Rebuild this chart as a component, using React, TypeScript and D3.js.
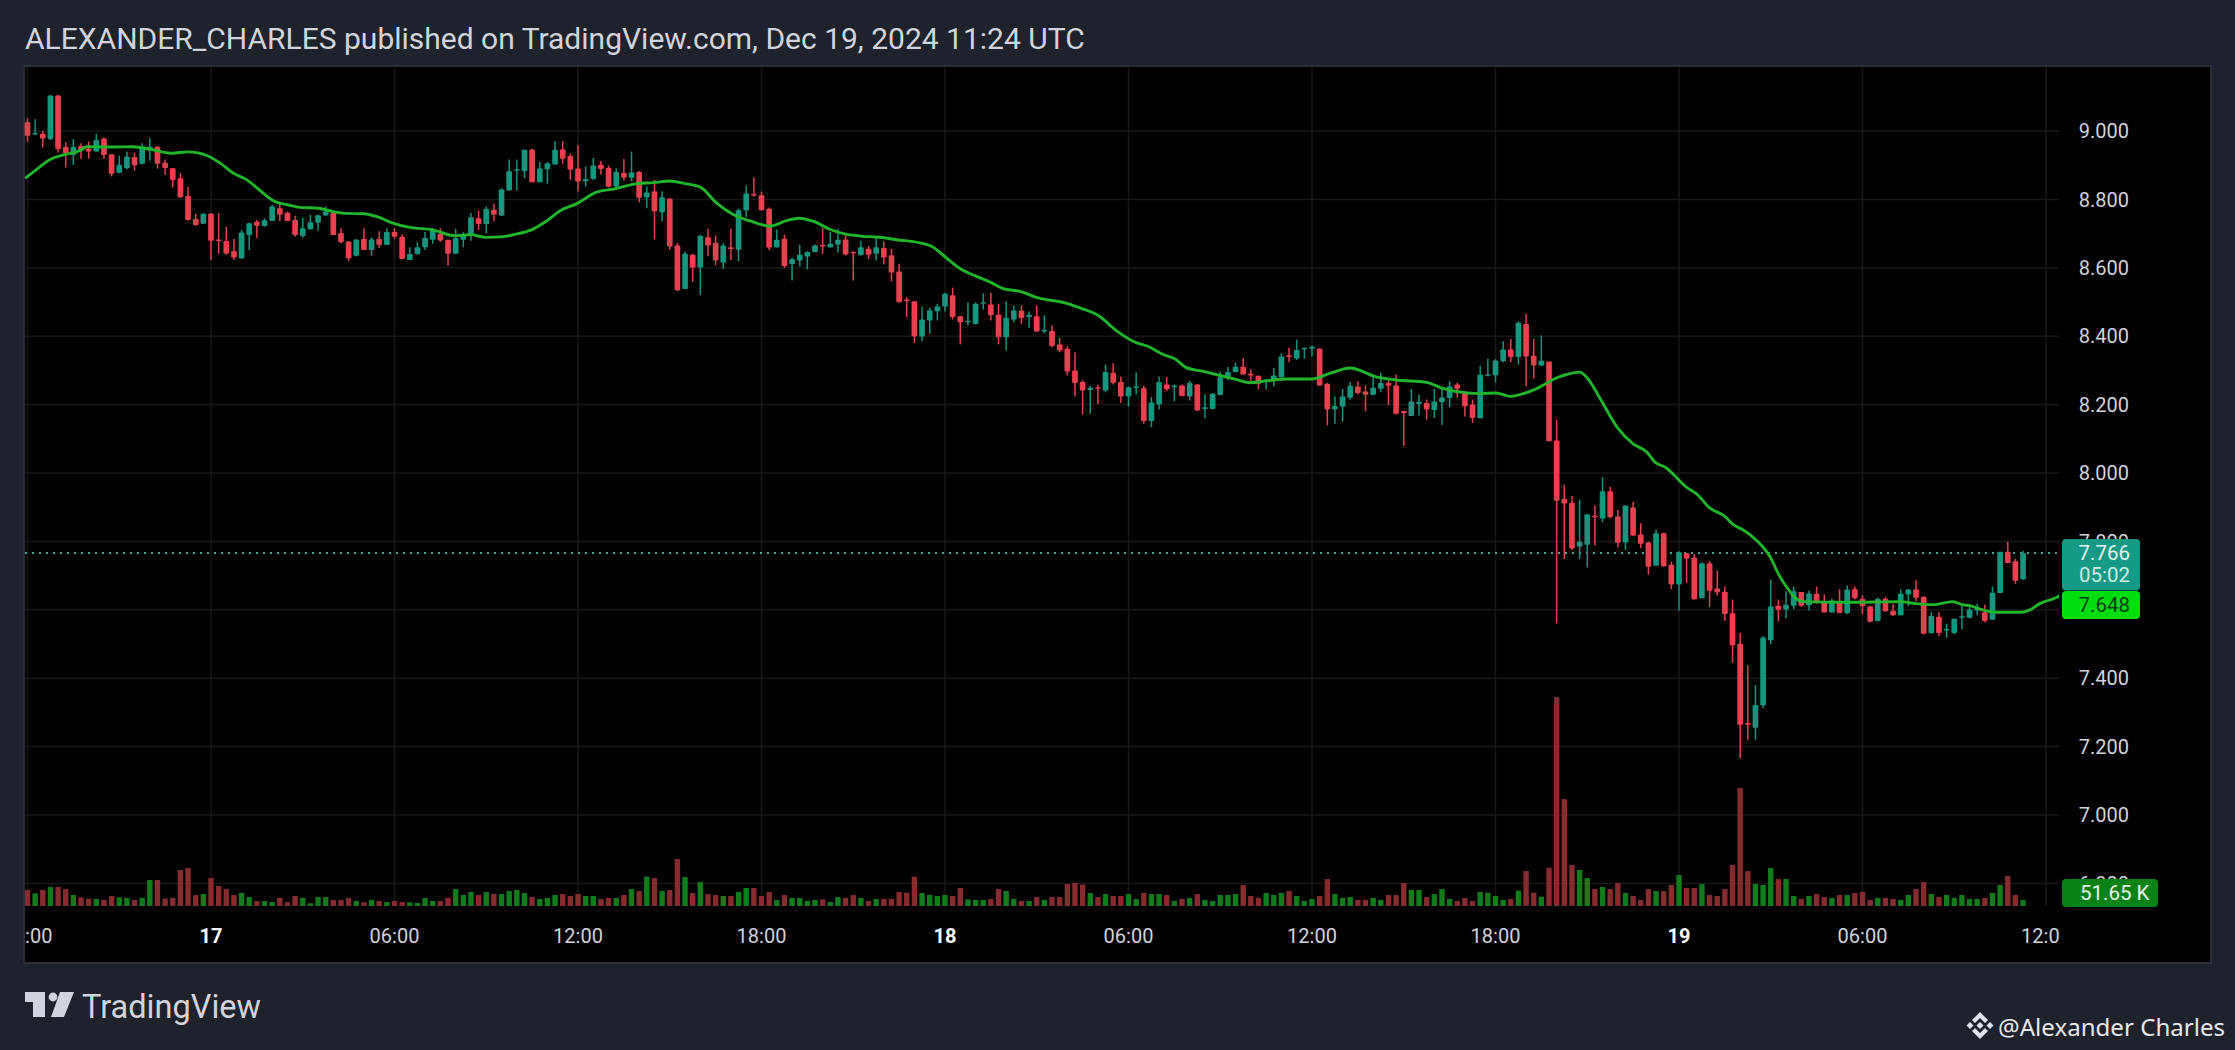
import React from "react";
import * as d3 from "d3";

const WIDTH = 2235;
const HEIGHT = 1050;

const PANE_LEFT = 25;
const PANE_RIGHT = 2059;
const FRAME_RIGHT = 2210;
const FRAME_TOP = 67;
const FRAME_BOTTOM = 962;
const VOLUME_BASE = 906;

const BG = "#1e222d";
const FRAME = "#2a2e39";
const GRID = "#181818";
const UP = "#16957f";
const DOWN = "#e8404f";
const VOL_UP = "#127c1c";
const VOL_DOWN = "#862c2f";
const MA = "#20b62c";
const TEXT = "#d1d4dc";

// 15 minute bars, bar 0 = Dec 16 18:00 UTC
const opens = [
  9.026, 8.990, 8.992, 8.976, 9.104, 8.953, 8.930, 8.956, 8.948, 8.940, 8.978, 8.932, 8.878, 8.891, 8.924, 8.904, 8.943, 8.954, 8.907, 8.891, 8.862, 8.810, 8.743, 8.729,
  8.758, 8.683, 8.678, 8.649, 8.628, 8.696, 8.735, 8.722, 8.737, 8.774, 8.761, 8.740, 8.693, 8.713, 8.732, 8.753, 8.761, 8.702, 8.677, 8.635, 8.684, 8.652, 8.684, 8.667,
  8.705, 8.691, 8.623, 8.640, 8.660, 8.682, 8.699, 8.682, 8.641, 8.682, 8.694, 8.745, 8.728, 8.770, 8.753, 8.826, 8.884, 8.882, 8.946, 8.850, 8.888, 8.902, 8.946, 8.927,
  8.890, 8.853, 8.860, 8.901, 8.892, 8.838, 8.877, 8.863, 8.880, 8.806, 8.824, 8.762, 8.802, 8.665, 8.538, 8.638, 8.601, 8.689, 8.673, 8.615, 8.660, 8.653, 8.768, 8.816,
  8.812, 8.773, 8.660, 8.685, 8.611, 8.621, 8.633, 8.646, 8.667, 8.660, 8.668, 8.683, 8.647, 8.637, 8.656, 8.641, 8.658, 8.637, 8.589, 8.507, 8.502, 8.399, 8.446, 8.473,
  8.487, 8.520, 8.458, 8.441, 8.436, 8.495, 8.493, 8.463, 8.397, 8.449, 8.475, 8.456, 8.458, 8.414, 8.415, 8.376, 8.363, 8.300, 8.266, 8.243, 8.251, 8.241, 8.293, 8.266,
  8.224, 8.249, 8.248, 8.152, 8.200, 8.259, 8.253, 8.256, 8.224, 8.259, 8.187, 8.187, 8.228, 8.278, 8.295, 8.311, 8.290, 8.284, 8.271, 8.271, 8.280, 8.344, 8.335, 8.363,
  8.363, 8.363, 8.261, 8.186, 8.194, 8.220, 8.253, 8.238, 8.229, 8.246, 8.263, 8.256, 8.181, 8.167, 8.202, 8.205, 8.184, 8.207, 8.219, 8.259, 8.236, 8.200, 8.160, 8.284,
  8.286, 8.327, 8.361, 8.339, 8.436, 8.343, 8.314, 8.326, 8.095, 7.925, 7.913, 7.785, 7.790, 7.875, 7.867, 7.947, 7.873, 7.797, 7.899, 7.820, 7.797, 7.729, 7.824, 7.732,
  7.674, 7.765, 7.753, 7.634, 7.736, 7.662, 7.653, 7.590, 7.501, 7.269, 7.255, 7.321, 7.511, 7.612, 7.601, 7.612, 7.652, 7.613, 7.647, 7.622, 7.592, 7.624, 7.590, 7.660,
  7.632, 7.610, 7.567, 7.632, 7.597, 7.584, 7.645, 7.659, 7.638, 7.532, 7.580, 7.540, 7.532, 7.577, 7.577, 7.600, 7.593, 7.571, 7.649, 7.770, 7.742, 7.689,
];
const highs = [
  9.037, 9.034, 9.001, 9.106, 9.106, 8.967, 8.976, 8.964, 8.969, 8.992, 8.982, 8.932, 8.928, 8.940, 8.937, 8.964, 8.979, 8.956, 8.917, 8.891, 8.877, 8.836, 8.758, 8.760,
  8.760, 8.760, 8.720, 8.684, 8.711, 8.732, 8.740, 8.745, 8.784, 8.787, 8.764, 8.752, 8.746, 8.755, 8.756, 8.779, 8.764, 8.716, 8.677, 8.683, 8.716, 8.689, 8.707, 8.716,
  8.716, 8.698, 8.660, 8.675, 8.705, 8.716, 8.716, 8.682, 8.714, 8.704, 8.760, 8.767, 8.779, 8.787, 8.832, 8.917, 8.917, 8.945, 8.948, 8.909, 8.909, 8.970, 8.970, 8.934,
  8.958, 8.896, 8.921, 8.912, 8.899, 8.890, 8.918, 8.940, 8.883, 8.838, 8.857, 8.823, 8.805, 8.673, 8.648, 8.641, 8.697, 8.714, 8.695, 8.672, 8.714, 8.773, 8.841, 8.864,
  8.823, 8.776, 8.711, 8.697, 8.629, 8.667, 8.648, 8.668, 8.716, 8.704, 8.714, 8.695, 8.647, 8.679, 8.664, 8.690, 8.677, 8.656, 8.612, 8.514, 8.502, 8.487, 8.483, 8.495,
  8.527, 8.542, 8.460, 8.499, 8.499, 8.525, 8.527, 8.495, 8.502, 8.490, 8.490, 8.472, 8.490, 8.461, 8.431, 8.395, 8.370, 8.353, 8.271, 8.255, 8.258, 8.317, 8.321, 8.282,
  8.253, 8.294, 8.255, 8.222, 8.282, 8.280, 8.259, 8.259, 8.269, 8.259, 8.230, 8.234, 8.297, 8.310, 8.323, 8.336, 8.303, 8.285, 8.275, 8.307, 8.350, 8.366, 8.390, 8.366,
  8.373, 8.365, 8.263, 8.224, 8.246, 8.266, 8.268, 8.256, 8.280, 8.294, 8.271, 8.288, 8.181, 8.246, 8.229, 8.215, 8.246, 8.246, 8.268, 8.264, 8.238, 8.215, 8.313, 8.334,
  8.333, 8.385, 8.392, 8.443, 8.466, 8.392, 8.402, 8.326, 8.155, 7.966, 7.933, 7.922, 7.880, 7.905, 7.988, 7.960, 7.892, 7.906, 7.916, 7.853, 7.799, 7.834, 7.826, 7.741,
  7.771, 7.766, 7.763, 7.738, 7.743, 7.714, 7.668, 7.630, 7.533, 7.438, 7.380, 7.523, 7.688, 7.630, 7.654, 7.668, 7.652, 7.656, 7.668, 7.645, 7.632, 7.660, 7.671, 7.668,
  7.642, 7.612, 7.635, 7.637, 7.616, 7.659, 7.661, 7.688, 7.639, 7.593, 7.593, 7.559, 7.574, 7.613, 7.608, 7.618, 7.615, 7.668, 7.770, 7.799, 7.749, 7.773,
];
const lows = [
  8.969, 8.989, 8.952, 8.974, 8.937, 8.893, 8.901, 8.919, 8.919, 8.940, 8.919, 8.867, 8.878, 8.888, 8.884, 8.902, 8.914, 8.890, 8.872, 8.835, 8.804, 8.738, 8.723, 8.729,
  8.623, 8.641, 8.638, 8.623, 8.626, 8.652, 8.687, 8.720, 8.737, 8.737, 8.737, 8.691, 8.688, 8.711, 8.708, 8.753, 8.696, 8.672, 8.619, 8.633, 8.652, 8.635, 8.658, 8.667,
  8.684, 8.626, 8.623, 8.638, 8.652, 8.670, 8.676, 8.605, 8.641, 8.660, 8.679, 8.711, 8.701, 8.736, 8.751, 8.826, 8.826, 8.862, 8.850, 8.850, 8.846, 8.902, 8.904, 8.857,
  8.823, 8.838, 8.857, 8.873, 8.835, 8.836, 8.855, 8.853, 8.792, 8.774, 8.683, 8.736, 8.653, 8.532, 8.538, 8.559, 8.520, 8.634, 8.607, 8.597, 8.623, 8.619, 8.748, 8.808,
  8.768, 8.651, 8.659, 8.599, 8.563, 8.604, 8.595, 8.645, 8.641, 8.659, 8.645, 8.636, 8.563, 8.636, 8.625, 8.621, 8.610, 8.560, 8.498, 8.456, 8.380, 8.385, 8.407, 8.446,
  8.472, 8.449, 8.376, 8.431, 8.434, 8.478, 8.446, 8.376, 8.358, 8.441, 8.436, 8.425, 8.412, 8.409, 8.368, 8.353, 8.285, 8.224, 8.171, 8.173, 8.202, 8.236, 8.259, 8.205,
  8.194, 8.230, 8.144, 8.134, 8.186, 8.239, 8.210, 8.224, 8.212, 8.181, 8.160, 8.186, 8.227, 8.272, 8.294, 8.287, 8.269, 8.244, 8.244, 8.254, 8.280, 8.324, 8.331, 8.334,
  8.341, 8.256, 8.139, 8.144, 8.150, 8.214, 8.230, 8.180, 8.227, 8.236, 8.199, 8.171, 8.080, 8.167, 8.168, 8.156, 8.161, 8.140, 8.192, 8.220, 8.165, 8.146, 8.160, 8.282,
  8.265, 8.324, 8.324, 8.317, 8.253, 8.276, 8.312, 8.093, 7.560, 7.748, 7.775, 7.748, 7.724, 7.788, 7.856, 7.867, 7.783, 7.775, 7.816, 7.781, 7.703, 7.729, 7.726, 7.660,
  7.598, 7.679, 7.630, 7.634, 7.608, 7.642, 7.567, 7.445, 7.167, 7.220, 7.220, 7.312, 7.499, 7.566, 7.576, 7.602, 7.608, 7.598, 7.618, 7.592, 7.592, 7.590, 7.588, 7.630,
  7.588, 7.563, 7.566, 7.594, 7.582, 7.584, 7.611, 7.625, 7.528, 7.530, 7.523, 7.518, 7.528, 7.543, 7.575, 7.584, 7.563, 7.571, 7.649, 7.736, 7.676, 7.687,
];
const closes = [
  8.986, 8.994, 8.978, 9.104, 8.947, 8.935, 8.953, 8.943, 8.940, 8.974, 8.930, 8.875, 8.901, 8.925, 8.900, 8.954, 8.954, 8.904, 8.892, 8.857, 8.806, 8.740, 8.725, 8.758,
  8.679, 8.680, 8.642, 8.630, 8.703, 8.730, 8.723, 8.739, 8.779, 8.755, 8.737, 8.696, 8.716, 8.733, 8.754, 8.764, 8.696, 8.675, 8.628, 8.683, 8.652, 8.683, 8.667, 8.705,
  8.691, 8.626, 8.640, 8.660, 8.687, 8.711, 8.680, 8.641, 8.687, 8.694, 8.748, 8.728, 8.772, 8.755, 8.829, 8.882, 8.888, 8.945, 8.850, 8.890, 8.906, 8.945, 8.919, 8.887,
  8.852, 8.860, 8.899, 8.889, 8.837, 8.880, 8.863, 8.879, 8.805, 8.820, 8.765, 8.806, 8.662, 8.534, 8.641, 8.601, 8.693, 8.665, 8.621, 8.665, 8.655, 8.768, 8.817, 8.812,
  8.768, 8.659, 8.682, 8.605, 8.625, 8.638, 8.646, 8.665, 8.664, 8.670, 8.682, 8.639, 8.643, 8.660, 8.638, 8.660, 8.630, 8.586, 8.500, 8.504, 8.399, 8.449, 8.475, 8.487,
  8.524, 8.456, 8.441, 8.445, 8.495, 8.499, 8.461, 8.397, 8.454, 8.475, 8.453, 8.463, 8.414, 8.419, 8.371, 8.358, 8.297, 8.263, 8.241, 8.249, 8.247, 8.295, 8.264, 8.224,
  8.251, 8.253, 8.152, 8.206, 8.266, 8.245, 8.256, 8.225, 8.263, 8.183, 8.192, 8.232, 8.280, 8.295, 8.311, 8.288, 8.285, 8.261, 8.273, 8.285, 8.341, 8.339, 8.360, 8.366,
  8.369, 8.256, 8.186, 8.196, 8.224, 8.255, 8.234, 8.229, 8.249, 8.263, 8.255, 8.173, 8.175, 8.209, 8.208, 8.186, 8.209, 8.221, 8.253, 8.246, 8.195, 8.161, 8.287, 8.289,
  8.329, 8.361, 8.339, 8.439, 8.341, 8.314, 8.328, 8.093, 7.919, 7.911, 7.779, 7.799, 7.879, 7.871, 7.947, 7.871, 7.796, 7.904, 7.817, 7.793, 7.726, 7.824, 7.727, 7.674,
  7.768, 7.750, 7.631, 7.736, 7.656, 7.651, 7.588, 7.496, 7.264, 7.264, 7.322, 7.519, 7.610, 7.600, 7.615, 7.654, 7.612, 7.648, 7.624, 7.592, 7.627, 7.591, 7.659, 7.634,
  7.611, 7.565, 7.632, 7.596, 7.584, 7.647, 7.659, 7.635, 7.530, 7.582, 7.532, 7.544, 7.574, 7.581, 7.601, 7.603, 7.567, 7.650, 7.770, 7.737, 7.685, 7.766,
];
// thousands
const volumes = [
  138, 109, 138, 164, 164, 146, 95, 75, 63, 60, 52, 86, 75, 69, 52, 69, 224, 224, 63, 69, 310, 327, 95, 103,
  241, 172, 146, 95, 112, 77, 43, 43, 34, 69, 34, 86, 69, 23, 77, 77, 52, 52, 69, 43, 32, 52, 43, 34,
  43, 34, 32, 26, 69, 43, 43, 69, 146, 95, 121, 95, 121, 103, 103, 129, 138, 112, 77, 60, 69, 95, 103, 86,
  103, 86, 86, 60, 69, 69, 95, 146, 129, 253, 241, 129, 138, 405, 250, 112, 207, 103, 95, 86, 86, 121, 155, 155,
  86, 121, 52, 95, 69, 69, 43, 52, 57, 34, 77, 69, 95, 69, 43, 60, 60, 60, 121, 115, 253, 112, 95, 86,
  95, 86, 155, 57, 52, 52, 60, 146, 129, 60, 43, 43, 77, 52, 77, 77, 189, 198, 184, 112, 77, 103, 86, 86,
  103, 60, 112, 103, 103, 95, 43, 60, 69, 103, 52, 43, 95, 95, 103, 181, 86, 69, 112, 95, 112, 129, 86, 43,
  60, 86, 232, 103, 69, 77, 52, 52, 69, 52, 95, 95, 198, 138, 138, 77, 103, 146, 60, 43, 69, 43, 121, 115,
  86, 52, 60, 132, 301, 115, 80, 330, 1799, 921, 353, 310, 241, 146, 164, 146, 198, 112, 86, 52, 146, 129, 129, 181,
  267, 155, 155, 189, 95, 86, 146, 353, 1016, 301, 189, 181, 327, 232, 232, 86, 60, 86, 103, 77, 69, 95, 95, 112,
  121, 52, 69, 69, 60, 52, 95, 146, 207, 103, 77, 95, 69, 95, 60, 60, 69, 112, 181, 258, 95, 52,
];

const maBars = [
  -0.3, 1.2, 2.9, 4.7, 6.9, 7.8, 10.8, 13.8, 16, 18.8, 21, 23.6, 25.2, 26.9, 28.7, 30.2, 32.1, 34.3, 35.9, 37.8, 40, 41.7, 43.9, 45.9, 47.6, 50, 53, 55.9, 57.9, 60,
  62.2, 64, 65.9, 67.7, 69.9, 71.8, 74.4, 76.8, 79.7, 81.9, 84, 86, 88, 90.1, 92.3, 94.5, 97.1, 99.3, 100.9, 103, 105, 106.9, 109.3, 111.1, 113.7, 116.7, 118.3, 119.8, 122, 124.1,
  125.9, 127.6, 129.8, 132.2, 135.8, 138, 140, 142.5, 144.8, 146.6, 148.4, 150.2, 151.5, 153.8, 156, 157.8, 159.9, 162.3, 164.6, 168, 170.4, 173, 174.5, 176.1, 179, 183, 184.9, 186.7, 189.8, 192.1,
  193.9, 197, 200.2, 201.3, 203, 204, 205.7, 207.9, 210, 211.8, 212.9, 214.2, 217, 218.3, 220, 222, 223.1, 224.2, 226.2, 227, 227.9, 229, 230.1, 231.2, 232.2, 237.9, 244.9, 247, 249.2, 251.8,
  253.1, 254, 256, 257.5, 260.8, 261.9, 263.2, 265.7, 266.2,
];
const maValues = [
  8.862, 8.888, 8.916, 8.930, 8.943, 8.954, 8.953, 8.954, 8.947, 8.935, 8.939, 8.927, 8.906, 8.877, 8.857, 8.830, 8.797, 8.783, 8.776, 8.775, 8.764, 8.759, 8.758, 8.748, 8.732, 8.718, 8.711, 8.694, 8.697, 8.689,
  8.691, 8.699, 8.711, 8.734, 8.770, 8.787, 8.821, 8.831, 8.846, 8.849, 8.854, 8.846, 8.836, 8.790, 8.756, 8.737, 8.722, 8.738, 8.745, 8.734, 8.712, 8.699, 8.692, 8.690, 8.682, 8.673, 8.662, 8.636, 8.597, 8.575,
  8.558, 8.539, 8.531, 8.512, 8.497, 8.480, 8.461, 8.415, 8.383, 8.370, 8.348, 8.332, 8.309, 8.297, 8.285, 8.275, 8.264, 8.270, 8.275, 8.275, 8.292, 8.307, 8.298, 8.283, 8.272, 8.265, 8.249, 8.239, 8.232, 8.234,
  8.224, 8.243, 8.280, 8.288, 8.295, 8.278, 8.217, 8.134, 8.085, 8.061, 8.031, 8.017, 7.958, 7.939, 7.898, 7.873, 7.849, 7.836, 7.802, 7.783, 7.756, 7.705, 7.666, 7.635, 7.624, 7.622, 7.624, 7.618, 7.615, 7.624,
  7.615, 7.612, 7.598, 7.593, 7.593, 7.600, 7.618, 7.640, 7.648,
];

const priceTicks = [9, 8.8, 8.6, 8.4, 8.2, 8, 7.8, 7.6, 7.4, 7.2, 7, 6.8];
const timeTickBars = [0, 24, 48, 72, 96, 120, 144, 168, 192, 216, 240, 264];
const timeTickLabels = ["18:00", "17", "06:00", "12:00", "18:00", "18", "06:00", "12:00", "18:00", "19", "06:00", "12:00"];
const dayTicks = ["17", "18", "19"];

const lastPrice = 7.766;
const lastMa = 7.648;
const countdown = "05:02";
const lastVolume = "51.65 K";

const fmtPrice = d3.format(".3f");
const FONT = "Roboto, sans-serif";

export default function App() {
  const x = d3.scaleLinear().domain([0, 264]).range([27.5, 2046]);
  const y = d3.scaleLinear().domain([9, 7]).range([131, 815]);
  const volY = d3.scaleLinear().domain([0, 1800]).range([VOLUME_BASE, 697]);

  const maLine = d3
    .line<number>()
    .x((d) => x(d))
    .y((_, i) => y(maValues[i]))
    .curve(d3.curveMonotoneX);

  const bodyW = 5.7;
  const volW = 5.4;
  const lastY = y(lastPrice);

  return (
    <svg
      width={WIDTH}
      height={HEIGHT}
      style={{ position: "absolute", left: 0, top: 0, display: "block" }}
      fontFamily={FONT}
    >
      <defs>
        <clipPath id="pane">
          <rect x={PANE_LEFT} y={FRAME_TOP} width={PANE_RIGHT - PANE_LEFT} height={FRAME_BOTTOM - FRAME_TOP} />
        </clipPath>
      </defs>
      <rect width={WIDTH} height={HEIGHT} fill={BG} />
      <rect
        x={PANE_LEFT - 1}
        y={FRAME_TOP - 1}
        width={FRAME_RIGHT - PANE_LEFT + 2}
        height={FRAME_BOTTOM - FRAME_TOP + 2}
        fill="#000"
        stroke={FRAME}
        strokeWidth={2}
      />

      <text x={25} y={49} fontSize={30} fill={TEXT}>
        ALEXANDER_CHARLES published on TradingView.com, Dec 19, 2024 11:24 UTC
      </text>

      {/* grid */}
      <g stroke={GRID} strokeWidth={1.5}>
        {priceTicks.map((p) => (
          <line key={p} x1={PANE_LEFT} x2={PANE_RIGHT} y1={y(p)} y2={y(p)} />
        ))}
        {timeTickBars.map((b) => (
          <line key={b} x1={x(b)} x2={x(b)} y1={FRAME_TOP} y2={VOLUME_BASE} />
        ))}
      </g>

      <line
        x1={PANE_LEFT}
        x2={PANE_RIGHT}
        y1={lastY}
        y2={lastY}
        stroke="#4aa697"
        strokeWidth={2}
        strokeDasharray="2 5"
      />

      {/* volume */}
      <g clipPath="url(#pane)">
        {volumes.map((v, i) => (
          <rect
            key={i}
            x={x(i) - volW / 2}
            y={volY(v)}
            width={volW}
            height={VOLUME_BASE - volY(v)}
            fill={closes[i] >= opens[i] ? VOL_UP : VOL_DOWN}
          />
        ))}
      </g>

      {/* candles */}
      <g>
        {opens.map((o, i) => {
          const c = closes[i];
          const col = c >= o ? UP : DOWN;
          const top = y(Math.max(o, c));
          const bottom = y(Math.min(o, c));
          return (
            <g key={i}>
              <line x1={x(i)} x2={x(i)} y1={y(highs[i])} y2={y(lows[i])} stroke={col} strokeWidth={1.5} />
              <rect
                x={x(i) - bodyW / 2}
                y={top}
                width={bodyW}
                height={Math.max(bottom - top, 1.5)}
                fill={col}
                rx={0.8}
              />
            </g>
          );
        })}
      </g>

      <path
        d={maLine(maBars) ?? ""}
        clipPath="url(#pane)"
        fill="none"
        stroke={MA}
        strokeWidth={2.9}
        strokeLinejoin="round"
      />

      {/* price axis */}
      <g fontSize={20} fill={TEXT} textAnchor="end">
        {priceTicks.map((p) => (
          <text key={p} x={2129} y={y(p)} dy="0.36em">
            {fmtPrice(p)}
          </text>
        ))}
      </g>

      {/* time axis */}
      <g clipPath="url(#pane)" fontSize={20} fill={TEXT} textAnchor="middle">
        {timeTickBars.map((b, i) => {
          const isDay = dayTicks.includes(timeTickLabels[i]);
          return (
            <text
              key={b}
              x={x(b)}
              y={936}
              dy="0.36em"
              fontWeight={isDay ? 700 : 400}
              fill={isDay ? "#ffffff" : TEXT}
            >
              {timeTickLabels[i]}
            </text>
          );
        })}
      </g>

      {/* last value tags */}
      <rect x={2062} y={539} width={78} height={51.5} rx={4} fill="#169a86" />
      <text x={2130} y={559.5} fontSize={20.5} fill="#e6f5f2" textAnchor="end">
        {fmtPrice(lastPrice)}
      </text>
      <text x={2130} y={581.5} fontSize={20.5} fill="#c9ebe5" textAnchor="end">
        {countdown}
      </text>
      <rect x={2062} y={591} width={78} height={28} rx={4} fill="#00de12" />
      <text x={2130} y={605} dy="0.36em" fontSize={20.5} fill="#0a3d0e" textAnchor="end">
        {fmtPrice(lastMa)}
      </text>
      <rect x={2062} y={879} width={96} height={28} rx={4} fill="#0a8217" />
      <text x={2080} y={893} dy="0.36em" fontSize={20.5} fill="#e8f2e8">
        {lastVolume}
      </text>

      {/* TradingView mark */}
      <g fill={TEXT}>
        <path d="M25 992H45V1017H33V1002H25Z" />
        <circle cx={53} cy={997} r={4.4} />
        <path d="M60 992H74L64 1017H51Z" />
      </g>
      <text x={82} y={1018} fontSize={32.5} fill={TEXT}>
        TradingView
      </text>

      {/* author mark */}
      <g fill="#e0e3eb">
        <path d="M1980 1012L1988 1020L1985 1023L1980 1018L1975 1023L1972 1020Z" />
        <path d="M1980 1039L1972 1031L1975 1028L1980 1033L1985 1028L1988 1031Z" />
        <path d="M1980 1022L1983.5 1025.5L1980 1029L1976.5 1025.5Z" />
        <path d="M1970 1022L1973.5 1025.5L1970 1029L1966.5 1025.5Z" />
        <path d="M1990 1022L1993.5 1025.5L1990 1029L1986.5 1025.5Z" />
      </g>
      <text x={1998} y={1036} fontSize={24.1} fill="#e6e8ee" fontFamily="'Noto Sans', sans-serif">
        @Alexander Charles
      </text>
    </svg>
  );
}
